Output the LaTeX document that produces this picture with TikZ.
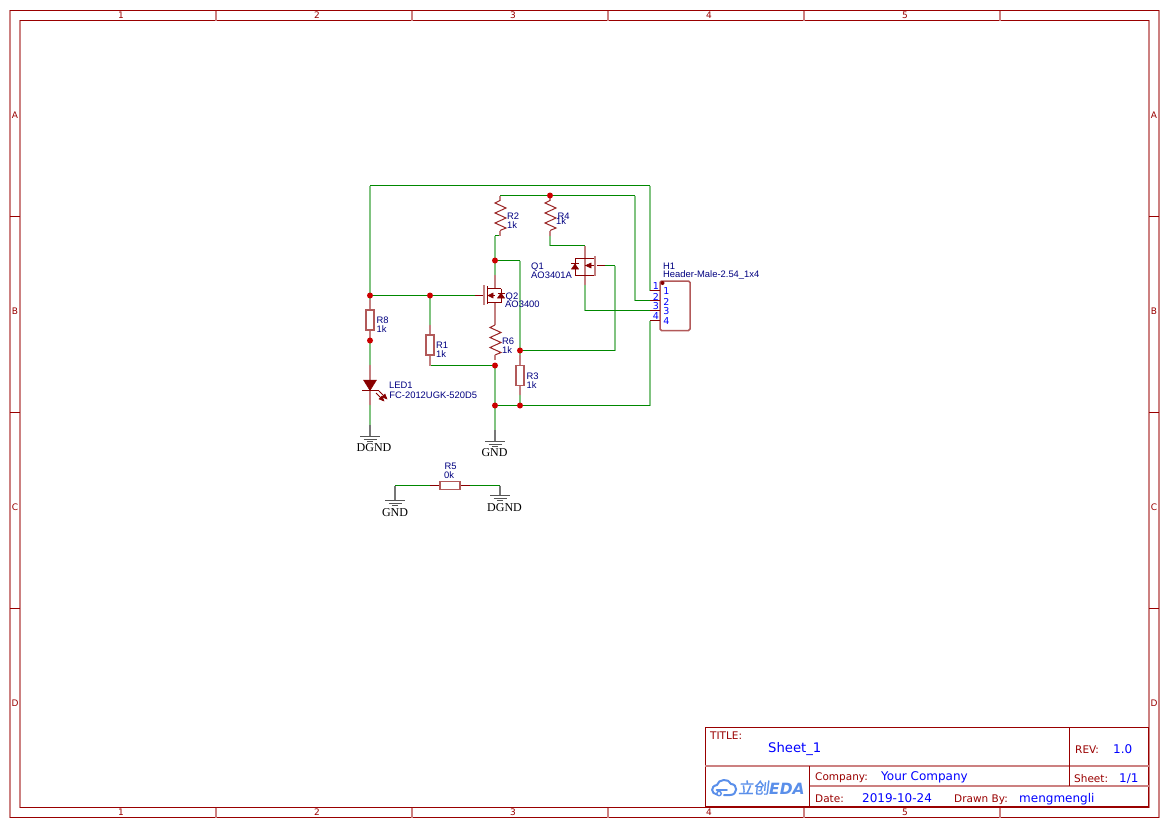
\documentclass[tikz,border=0pt]{standalone}
\usepackage{fontspec}
\setmainfont{DejaVu Sans}
\newfontfamily\arialf{Liberation Sans}
\newfontfamily\timesf{Liberation Serif}
\newfontfamily\cjkf[FakeBold=1]{Noto Sans CJK SC}
\definecolor{frm}{HTML}{990000}
\definecolor{cmp}{HTML}{880000}
\definecolor{wire}{HTML}{008800}
\definecolor{dotc}{HTML}{CC0000}
\definecolor{lab}{HTML}{000080}
\definecolor{val}{HTML}{0000FF}
\definecolor{logo}{HTML}{5A8FEA}
\definecolor{gnd}{HTML}{555555}
\tikzset{
 frameline/.style={draw=frm,line width=1pt},
 vframe/.style={draw=frm!50,line width=2pt},
 wireline/.style={draw=wire,line width=1pt},
 vwire/.style={draw=wire!50,line width=2pt},
 part/.style={draw=cmp,line width=1pt},
 vpart/.style={draw=cmp!50,line width=2pt},
 partfill/.style={fill=cmp,draw=cmp,line width=.5pt},
 gndline/.style={draw=gnd,line width=1pt},
 vgnd/.style={draw=gnd!80,line width=2pt},
 dot/.style={circle,fill=dotc,inner sep=0pt,minimum size=6pt},
 tick/.style={text=frm,font=\fontsize{9}{9}\selectfont,inner sep=0pt},
 ttl/.style={text=frm,font=\fontsize{10.5}{10.5}\selectfont,anchor=base west,inner sep=0pt},
 ttv/.style={text=val,font=\fontsize{12}{12}\selectfont,anchor=base west,inner sep=0pt},
 lbl/.style={text=lab,font=\arialf\fontsize{9.4}{9.4}\selectfont,anchor=base west,inner sep=0pt},
 pinn/.style={text=val,font=\fontsize{9.5}{9.5}\selectfont,inner sep=0pt},
 pow/.style={text=black,font=\timesf\fontsize{12}{12}\selectfont,anchor=base,inner sep=0pt},
 rbox/.style={draw=cmp!65,line width=1.2pt,rectangle,inner sep=0pt},
}
\begin{document}
\begin{tikzpicture}[x=1pt,y=-1pt]
\useasboundingbox (0,0) rectangle (1169,827);
% frame
\draw[vframe] (10,10) -- (10,818);
\draw[vframe] (1159,10) -- (1159,818);
\draw[vframe] (20,20) -- (20,808);
\draw[vframe] (1149,20) -- (1149,808);
\draw[frameline] (10,10.5) -- (1159,10.5);
\draw[frameline] (10,817.5) -- (1159,817.5);
\draw[frameline] (20,20.5) -- (1149,20.5);
\draw[frameline] (20,807.5) -- (1149,807.5);
\foreach \x in {216,412,608,804,1000}{
 \draw[vframe] (\x,10.5) -- (\x,20.5);
 \draw[vframe] (\x,807.5) -- (\x,817.5);}
\foreach \y in {216.5,412.5,608.5}{
 \draw[frameline] (10,\y) -- (20,\y);
 \draw[frameline] (1149,\y) -- (1159,\y);}
\foreach \n/\x in {1/121,2/317,3/513,4/709,5/905}{
 \node[tick] (top\n) at (\x,15.5) {\n};
 \node[tick] (bot\n) at (\x,812) {\n};}
\foreach \n/\y in {A/115,B/311,C/507,D/703}{
 \node[tick] (lft\n) at (15,\y) {\n};
 \node[tick] (rgt\n) at (1154,\y) {\n};}
% title block
\draw[frameline] (705.5,727) rectangle (1148.5,806.5);
\draw[vframe] (705,766) -- (1149,766);
\draw[vframe] (809.5,786) -- (1149,786);
\draw[frameline] (809.5,766) -- (809.5,806.5);
\draw[frameline] (1069.5,727) -- (1069.5,786);
\node[ttl] (tTitle) at (710,739) {TITLE:};
\node[ttv,font=\fontsize{13.2}{13.2}\selectfont] (vTitle) at (768,752.5) {Sheet\_1};
\node[ttl] (tRev) at (1075,753) {REV:};
\node[ttv] (vRev) at (1113,753) {1.0};
\node[ttl] (tComp) at (815,780) {Company:};
\node[ttv] (vComp) at (881,780) {Your Company};
\node[ttl] (tSheet) at (1074,782) {Sheet:};
\node[ttv] (vSheet) at (1119,782) {1/1};
\node[ttl] (tDate) at (815,802) {Date:};
\node[ttv] (vDate) at (862,802) {2019-10-24};
\node[ttl] (tBy) at (954,802) {Drawn By:};
\node[ttv] (vBy) at (1019,802) {mengmengli};
% logo
\draw[draw=logo,line width=2pt,line cap=round,line join=round]
 (717,794.5) .. controls (711,794) and (710,786) .. (717,785)
 .. controls (718,779) and (729,778) .. (731,784)
 .. controls (738,784) and (738,795) .. (730,795) -- (724,795);
\draw[draw=logo,line width=1.6pt,line cap=round] (716.5,790) -- (727,790);
\draw[draw=logo,line width=1.4pt] (719,793.5) circle (2.2);
\node[text=logo,inner sep=0pt,anchor=base west,font=\cjkf\fontsize{15.5}{15.5}\selectfont,xslant=.12,transform shape] (logoA) at (738,793.5) {立创};
\node[text=logo,inner sep=0pt,anchor=base west,font=\bfseries\itshape\fontsize{15.5}{15.5}\selectfont] (logoB) at (769,794) {EDA};
% connection points
\coordinate (topL) at (370,185.5);
\coordinate (topR) at (650,185.5);
\coordinate (pA) at (650,290.5);
\coordinate (pB) at (650,300.5);
\coordinate (pC) at (650,310.5);
\coordinate (pD) at (650,320.5);
\coordinate (pAi) at (660,290.5);
\coordinate (pBi) at (660,300.5);
\coordinate (pCi) at (660,310.5);
\coordinate (pDi) at (660,320.5);
\coordinate (r2t) at (500,195.5);
\coordinate (j4) at (550,195.5);
\coordinate (w2a) at (635,195.5);
\coordinate (w2b) at (635,300.5);
\coordinate (r2b) at (500,235.5);
\coordinate (r2c) at (495,235.5);
\coordinate (jD) at (495,260.5);
\coordinate (jDr) at (520,260.5);
\coordinate (q2d) at (495,275);
\coordinate (jG) at (370,295.5);
\coordinate (jG2) at (430,295.5);
\coordinate (q2g) at (475,295.5);
\coordinate (r8t) at (370,300);
\coordinate (r8b) at (370,340.5);
\coordinate (ledt) at (370,365);
\coordinate (ledb) at (370,405);
\coordinate (g1) at (370,425);
\coordinate (g1e) at (370,436);
\coordinate (r1t) at (430,325);
\coordinate (r1b) at (430,365.5);
\coordinate (jS) at (495,365.5);
\coordinate (jB) at (495,405.5);
\coordinate (jB2) at (520,405.5);
\coordinate (g2) at (495,430);
\coordinate (g2e) at (495,441);
\coordinate (jQ) at (520,350.5);
\coordinate (r3t) at (520,355);
\coordinate (r3b) at (520,395);
\coordinate (r4b) at (550,235);
\coordinate (r4c) at (550,245.5);
\coordinate (q1s) at (585,245.5);
\coordinate (q1d) at (585,285);
\coordinate (q1e) at (585,310.5);
\coordinate (q1g) at (605,265.5);
\coordinate (q1g2) at (615,265.5);
\coordinate (q1g3) at (615,350.5);
\coordinate (w4) at (650,405.5);
\coordinate (r5l) at (430,485.5);
\coordinate (r5r) at (470,485.5);
\coordinate (g3) at (395,485.5);
\coordinate (g3e) at (395,500);
\coordinate (g4) at (500,485.5);
\coordinate (g4e) at (500,495);
% wires: verticals
\draw[vwire] (jG) -- (topL);
\draw[vwire] (topR) -- (pA);
\draw[vwire] (w2a) -- (w2b);
\draw[vwire] (r2c) -- (jD) -- (q2d);
\draw[vwire] (jDr) -- (r3t);
\draw[vwire] (r3b) -- (jB2);
\draw[vwire] (jG) -- (r8t);
\draw[vwire] (jG2) -- (r1t);
\draw[vwire] (jS) -- (jB) -- (g2);
\draw[vwire] (w4) -- (pD);
\draw[vwire] (r8b) -- (ledt);
\draw[vwire] (ledb) -- (g1);
\draw[vwire] (r4b) -- (r4c);
\draw[vwire] (q1d) -- (q1e);
\draw[vwire] (q1g2) -- (q1g3);
% wires: horizontals
\draw[wireline] (topL) -- (topR);
\draw[wireline] (r2t) -- (j4) -- (w2a);
\draw[wireline] (w2b) -- (pB);
\draw[wireline] (r2b) -- (r2c);
\draw[wireline] (jD) -- (jDr);
\draw[wireline] (q2g) -- (jG);
\draw[wireline] (r1b) -- (jS);
\draw[wireline] (jB) -- (jB2) -- (w4);
\draw[wireline] (r4c) -- (q1s);
\draw[wireline] (q1e) -- (pC);
\draw[wireline] (q1g) -- (q1g2);
\draw[wireline] (q1g3) -- (jQ);
\draw[wireline] (g3) -- (r5l);
\draw[wireline] (r5r) -- (g4);
% ground
\draw[vgnd] (g1) -- (g1e);
\draw[vgnd] (g2) -- (g2e);
\draw[vgnd] (g3) -- (g3e);
\draw[vgnd] (g4) -- (g4e);
\foreach \c in {g1e,g2e,g3e,g4e}{
 \draw[gndline] ([xshift=-10pt,yshift=-.5pt]\c) -- ([xshift=10pt,yshift=-.5pt]\c);
 \draw[gndline] ([xshift=-6.5pt,yshift=-3pt]\c) -- ([xshift=6.5pt,yshift=-3pt]\c);
 \draw[gndline] ([xshift=-3pt,yshift=-5.5pt]\c) -- ([xshift=3pt,yshift=-5.5pt]\c);}
\node[pow] (nDG1) at (374,451.5) {DGND};
\node[pow] (nG1) at (494.5,456.5) {GND};
\node[pow] (nG2) at (395,516.5) {GND};
\node[pow] (nDG2) at (504.5,511.5) {DGND};
% R2, R4, R6 zigzags
\foreach \cx/\cy in {500/195.5,550/195.5,495/320}{
 \draw[vpart] (\cx,\cy) -- ++(0,5);
 \draw[part,draw=cmp!85,line join=miter] (\cx,\cy+5) -- ++(-5,2.5) -- ++(11,5) -- ++(-11,5) -- ++(11,5) -- ++(-11,5) -- ++(11,5) -- ++(-6,2.5);
 \draw[vpart] (\cx,\cy+35) -- ++(0,5);}
% R1, R8, R3, R5 boxes
\node[rbox,minimum width=8pt,minimum height=20pt] (R1) at (430,345) {};
\draw[vpart] (r1t) -- (R1.north);
\draw[vpart] (R1.south) -- (r1b);
\node[rbox,minimum width=8pt,minimum height=20pt] (R8) at (370,320) {};
\draw[vpart] (r8t) -- (R8.north);
\draw[vpart] (R8.south) -- (r8b);
\node[rbox,minimum width=8pt,minimum height=20pt] (R3) at (520,375.5) {};
\draw[vpart] (r3t) -- (R3.north);
\draw[vpart] (R3.south) -- (r3b);
\node[rbox,minimum width=20pt,minimum height=8pt] (R5) at (450,485.5) {};
\draw[part] (r5l) -- (R5.west);
\draw[part] (R5.east) -- (r5r);
% LED
\draw[vpart] (ledt) -- (ledb);
\draw[partfill] (363.5,380) -- (376.5,380) -- (370,390.5) -- cycle;
\draw[part] (362,390.5) -- (379,390.5);
\draw[part] (376,393) -- (383,400);
\draw[part] (379,391) -- (386,398);
\draw[partfill] (384,401) -- (379,399) -- (382,396) -- cycle;
\draw[partfill] (387,399) -- (382,397) -- (385,394) -- cycle;
% Q2
\draw[vpart] (q2d) -- (495,288.5);
\draw[vpart] (495,320) -- (495,302.5);
\draw[part] (495,288.5) -- (488,288.5);
\draw[part] (495,302.5) -- (488,302.5);
\draw[part] (488,295.5) -- (495,295.5);
\draw[part] (q2g) -- (484,295.5);
\draw[vpart] (484,285) -- (484,305);
\draw[partfill] (488,295.5) -- (493,293) -- (493,298) -- cycle;
\draw[part] (495,288.5) -- (501,288.5);
\draw[part] (495,302.5) -- (501,302.5);
\draw[part] (501.5,288.5) -- (501.5,302.5);
\draw[part] (487.5,286) -- (487.5,304);
\draw[partfill] (497.5,298) -- (504.5,298) -- (501,293) -- cycle;
\draw[part] (497.5,293) -- (504.5,293);
% Q1
\draw[vpart] (q1s) -- (q1d);
\draw[part] (575.5,275.5) -- (575.5,258.5) -- (594,258.5);
\draw[part] (575.5,275.5) -- (594,275.5);
\draw[part] (585,265.5) -- (594,265.5);
\draw[vpart] (595,256) -- (595,276);
\draw[part] (597,265.5) -- (q1g);
\draw[partfill] (585.5,265.5) -- (591,263) -- (591,268) -- cycle;
\draw[partfill] (571.5,269) -- (578.5,269) -- (575,264) -- cycle;
\draw[part] (571,263.5) -- (579,263.5);
% H1
\draw[draw=cmp!65,line width=1.5pt,rounded corners=1.5pt] (660,281) rectangle (690,330.5);
\draw[part] (pA) -- (pAi);
\draw[part] (pB) -- (pBi);
\draw[part] (pC) -- (pCi);
\draw[part] (pD) -- (pDi);
\node[circle,fill=cmp,inner sep=0pt,minimum size=4pt] (h1dot) at (662.5,283) {};
\foreach \n/\y in {1/286.5,2/296.5,3/306.5,4/316.5}{
 \node[pinn] (po\n) at (656,\y) {\n};}
\foreach \n/\y in {1/291.5,2/301.5,3/311.5,4/321.5}{
 \node[pinn] (pi\n) at (666.5,\y) {\n};}
% junctions
\foreach \c in {j4,jD,jG,jG2,r8b,jS,jB,jB2,jQ}{
 \node[dot] (d\c) at (\c) {};}
% labels
\node[lbl] (lR2) at (507,219.5) {R2};
\node[lbl] (vR2) at (507,228.5) {1k};
\node[lbl] (lR4) at (557.5,219.5) {R4};
\node[lbl] (vR4) at (556,224.5) {1k};
\node[lbl] (lQ1) at (531,269.5) {Q1};
\node[lbl] (vQ1) at (531,278.5) {AO3401A};
\node[lbl] (lQ2) at (505.5,299) {Q2};
\node[lbl] (vQ2) at (505,307.7) {AO3400};
\node[lbl] (lR8) at (376.5,323.8) {R8};
\node[lbl] (vR8) at (376.5,332.8) {1k};
\node[lbl] (lR1) at (436,348.4) {R1};
\node[lbl] (vR1) at (436,357.8) {1k};
\node[lbl] (lR6) at (502,344.4) {R6};
\node[lbl] (vR6) at (502,353.4) {1k};
\node[lbl] (lR3) at (526.5,379.4) {R3};
\node[lbl] (vR3) at (526.5,388.4) {1k};
\node[lbl] (lLED) at (389,388.9) {LED1};
\node[lbl] (vLED) at (389.2,398) {FC-2012UGK-520D5};
\node[lbl] (lR5) at (444.5,469.4) {R5};
\node[lbl] (vR5) at (444,478.4) {0k};
\node[lbl] (lH1) at (663,269.4) {H1};
\node[lbl] (vH1) at (663,277.9) {Header-Male-2.54\_1x4};
\end{tikzpicture}
\end{document}
